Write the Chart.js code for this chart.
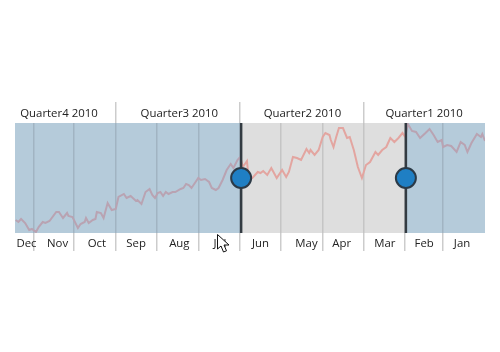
<!DOCTYPE html>
<html><head><meta charset="utf-8">
<script src="https://cdn.jsdelivr.net/npm/chart.js@4"></script>
<style>html,body{margin:0;padding:0;background:#fff}#w{position:relative;width:500px;height:352px}svg{position:absolute;left:217px;top:234px}</style>
</head><body><div id="w"><canvas id="c" width="500" height="352"></canvas>
<svg width="16" height="20" viewBox="0 0 16 20"><path d="M.5 .5V15L4 12L6.5 18L9.5 16.8L7 11H12Z" fill="#fff" stroke="#111" stroke-width="1"/></svg></div>
<script>
const days=[0,2,3,6,10,13,15,18,21,25,28,31,32,35,38,41,44,48,51,54,57,59,61,64,67,70,73,76,79,81,85,88,91,94,97,100,102,105,108,110,112,114,115,118,120,123,126,129,130,132,136,139,142,145,147,150,154,158,161,164,166,168,172,175,176,179,181,183,186,188,191,194,197,199,202,204,207,210,212,214,217,219,221,223,225,229,231,234,236,238,240,242,244,246,248,251,254,257,258,262,265,267,271,273,276,279,282,284,287,288,290,293,295,296,299,301,305,308,309,312,315,317,322,325,327,330,332,335,337,340,343,345,347];
const values=[92,99,96,99,90,81,88,91,81,87,88,86,93,91,98,104,100,95,101,102,109,96,100,95,91,95,86,83,78,81,71,68,55,66,83,96,95,105,105,96,86,93,98,100,96,83,78,83,80,84,73,75,76,61,56,63,55,65,58,62,60,61,55,58,72,66,76,73,65,69,63,53,45,43,45,51,54,53,55,51,45,48,49,45,44,41,41,39,41,37,41,40,35,38,44,41,29,33,32,37,35,39,36,24,23,30,15,20,21,14,13,10,15,11,9,5,16,17,20,15,21,21,12,10,11,6,1,4,3,10,14,11,13];
const monthBounds=[31,59,90,120,151,181,212,243,273,304,334];
const quarterBounds=[90,181,273];
const monthNames=["Jan","Feb","Mar","Apr","May","Jun","Jul","Aug","Sep","Oct","Nov","Dec"];
const monthLabelDays=[17,45,74,106,132,166,196,226,258,287,316,339];
const quarterNames=["Quarter1 2010","Quarter2 2010","Quarter3 2010","Quarter4 2010"];
const quarterLabelDays=[45,135,226,315];
const selection=[58.5,180.3];
const handleY=[0,55,110];
const axisMax=347.5;

const monthLabelMap=new Map(monthLabelDays.map((d,i)=>[d,monthNames[i]]));
const quarterLabelMap=new Map(quarterLabelDays.map((d,i)=>[d,quarterNames[i]]));
const inSel=d=>d>=selection[0]&&d<=selection[1];
const font={family:"'Open Sans',sans-serif",size:11.4};
const gridCol="rgba(0,0,0,0.11)";
const tickCol="rgba(0,0,0,0.2)";

const bands={id:'bands',beforeDraw(ch){
  const {ctx,chartArea:a,scales:{x}}=ch;
  ctx.save();
  ctx.fillStyle='#b5cbda';ctx.fillRect(a.left,a.top,a.width,a.height);
  const l=x.getPixelForValue(selection[1]),r=x.getPixelForValue(selection[0]);
  ctx.fillStyle='#dedede';ctx.fillRect(l,a.top,r-l,a.height);
  ctx.restore();
}};
const handle=d=>({type:'line',data:handleY.map(y=>({x:d,y})),borderColor:'#333b42',borderWidth:2.5,
  pointRadius:[0,10,0],pointBackgroundColor:'#1f7fc4',pointBorderColor:'#2b3a47',pointBorderWidth:2,tension:0,clip:false});

new Chart(document.getElementById('c'),{
  type:'line',
  plugins:[bands],
  data:{datasets:[
    handle(selection[0]),handle(selection[1]),
    {data:days.map((d,i)=>({x:d,y:values[i]})),borderWidth:2,pointRadius:0,tension:0,borderColor:'#b9a3b2',
     segment:{borderColor:c=>inSel((c.p0.parsed.x+c.p1.parsed.x)/2)?'#e3a5a0':'#b9a3b2'}}
  ]},
  options:{
    responsive:false,animation:false,
    layout:{padding:{left:15,right:15,top:0,bottom:0}},
    plugins:{legend:{display:false},tooltip:{enabled:false}},
    scales:{
      x:{type:'linear',reverse:true,min:0,max:axisMax,position:'bottom',
        afterFit(s){s.height=119},
        afterBuildTicks(s){s.ticks=[...monthBounds,...monthLabelDays].sort((a,b)=>a-b).map(value=>({value}))},
        border:{display:false},
        grid:{color:c=>c.tick&&monthBounds.includes(c.tick.value)?gridCol:'transparent',
              tickColor:c=>c.tick&&monthBounds.includes(c.tick.value)?tickCol:'transparent',
              lineWidth:1.5,tickLength:18,drawOnChartArea:true},
        ticks:{autoSkip:false,maxRotation:0,padding:-14,color:'#222',font,callback:v=>monthLabelMap.get(v)||''}
      },
      xq:{type:'linear',reverse:true,min:0,max:axisMax,position:'top',
        afterFit(s){s.height=123},
        afterBuildTicks(s){s.ticks=[...quarterBounds,...quarterLabelDays].sort((a,b)=>a-b).map(value=>({value}))},
        border:{display:false},
        grid:{color:c=>c.tick&&quarterBounds.includes(c.tick.value)?tickCol:'transparent',lineWidth:1.5,tickLength:21,drawOnChartArea:false},
        ticks:{autoSkip:false,maxRotation:0,padding:-19,color:'#222',font,callback:v=>quarterLabelMap.get(v)||''}
      },
      y:{display:false,min:0,max:110}
    }
  }
});
</script></body></html>
